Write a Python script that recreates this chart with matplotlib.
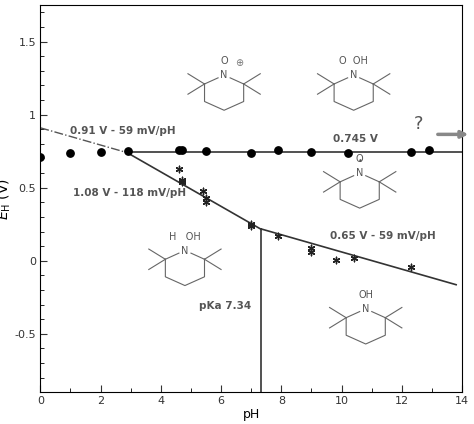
import numpy as np
import matplotlib
matplotlib.use("Agg")
import matplotlib.pyplot as plt

circ_x = [0, 1, 2, 2.9, 4.6, 4.7, 5.5, 7.0, 7.9, 9.0, 10.2, 12.3, 12.9]
circ_y = [0.71, 0.735, 0.745, 0.75, 0.755, 0.76, 0.75, 0.74, 0.755, 0.745, 0.74, 0.745, 0.755]
star_x = [4.6, 4.7, 4.7, 5.4, 5.5, 5.5, 7.0, 7.0, 7.9, 9.0, 9.0, 9.8, 10.4, 12.3]
star_y = [0.63, 0.55, 0.54, 0.48, 0.43, 0.40, 0.25, 0.24, 0.17, 0.09, 0.06, 0.005, 0.02, -0.04]
E_plateau = 0.745
a1, s1 = 0.91, 0.059
a2, s2 = 1.08, 0.118
a3, s3 = 0.65, 0.059
pKa = 7.34

fig = plt.figure(figsize=(4.74, 4.24), dpi=100)
ax = fig.add_axes([0.085, 0.075, 0.89, 0.913])
ax.set_xlim(0, 14)
ax.set_ylim(-0.9, 1.75)

x1 = np.array([0, 2.9])
ax.plot(x1, a1 - s1 * x1, color='#555', lw=1, ls='-.')
ax.plot([2.9, 14], [E_plateau, E_plateau], color='#333', lw=1.2)
x2 = np.array([2.87, pKa])
ax.plot(x2, a2 - s2 * x2, color='#333', lw=1.2)
x3 = np.array([pKa, 13.8])
ax.plot(x3, a3 - s3 * x3, color='#333', lw=1.2)
ax.plot([pKa, pKa], [-0.9, a3 - s3 * pKa], color='#333', lw=1.2)
ax.scatter(circ_x, circ_y, s=28, color='black', zorder=3)
ax.scatter(star_x, star_y, s=22, marker=(6, 2, 0), color='#222', lw=1, zorder=3)

tc = '#555'
ax.text(1.0, 0.87, '0.91 V - 59 mV/pH', fontsize=7.5, color=tc, fontweight='bold')
ax.text(9.7, 0.815, '0.745 V', fontsize=7.5, color=tc, fontweight='bold')
ax.text(1.1, 0.44, '1.08 V - 118 mV/pH', fontsize=7.5, color=tc, fontweight='bold')
ax.text(9.6, 0.15, '0.65 V - 59 mV/pH', fontsize=7.5, color=tc, fontweight='bold')
ax.text(7.0, -0.33, 'pKa 7.34', fontsize=7.5, color=tc, fontweight='bold', ha='right')
ax.text(12.4, 0.9, '?', fontsize=13, color='#555')
ax.annotate('', xy=(14.3, 0.865), xytext=(13.1, 0.865),
            arrowprops=dict(arrowstyle='-|>', color='#888', lw=2.5), annotation_clip=False)

def ring(cx, cy, top):
    ang = np.deg2rad(np.array([90, 30, -30, -90, -150, 150]))
    sx, sy = 0.75, 0.12
    xs = cx + sx * np.cos(ang)
    ys = cy + sy * np.sin(ang)
    ax.plot(xs[1:6], ys[1:6], color='#666', lw=0.8)
    ax.plot([xs[5], cx - 0.2], [ys[5], cy + sy * 0.85], color='#666', lw=0.8)
    ax.plot([xs[1], cx + 0.2], [ys[1], cy + sy * 0.85], color='#666', lw=0.8)
    ax.text(cx, cy + sy, 'N', ha='center', va='center', fontsize=7, color='#555')
    for s in (-1, 1):
        bx, by = xs[1] if s > 0 else xs[5], ys[1]
        ax.plot([bx, bx + s * 0.55], [by, by + 0.07], color='#666', lw=0.8)
        ax.plot([bx, bx + s * 0.55], [by, by - 0.07], color='#666', lw=0.8)
    ax.text(cx, cy + sy + 0.06, top, ha='center', va='bottom', fontsize=7, color='#555')

ring(6.1, 1.15, 'O')
ax.text(6.45, 1.33, '⊕', fontsize=7, color='#777')
ring(10.4, 1.15, 'O  OH')
ring(10.6, 0.48, 'O')
ax.text(10.6, 0.66, '•', fontsize=6, color='#555', ha='center')
ring(4.8, -0.05, 'H   OH')
ring(10.8, -0.45, 'OH')

ax.set_xticks(range(0, 15, 2))
ax.set_yticks([-0.5, 0, 0.5, 1, 1.5])
ax.set_yticklabels(['-0.5', '0', '0.5', '1', '1.5'])
ax.set_xticks(np.arange(0, 14.1, 1), minor=True)
ax.set_yticks(np.arange(-0.9, 1.76, 0.1), minor=True)
ax.tick_params(direction='in', labelsize=8, colors='#333', length=5, pad=3)
ax.tick_params(which='minor', direction='in', length=3)
ax.set_xlabel('pH', fontsize=9, labelpad=1)
ax.set_ylabel('$E_{\\mathrm{H}}$ (V)', fontsize=10, labelpad=1)
fig.savefig('out.png', dpi=100)
